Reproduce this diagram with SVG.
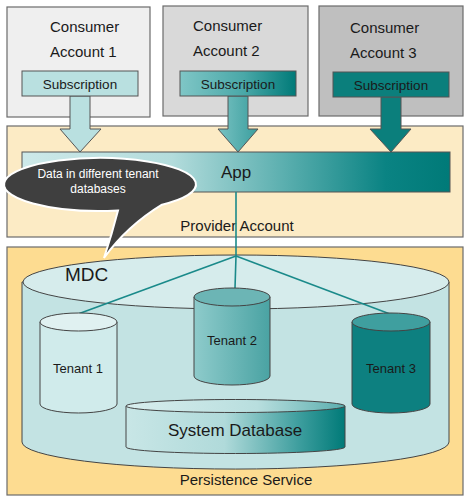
<svg xmlns="http://www.w3.org/2000/svg" width="474" height="504" viewBox="0 0 474 504">
<defs>
<style>
text{font-family:"Liberation Sans",Arial,sans-serif;fill:#1a1a1a}
.acct{stroke:#6b6b6b;stroke-width:1.2}
.t15{font-size:15px}
.t12{font-size:12px;text-anchor:middle}
.tsub{font-size:13.5px;text-anchor:middle}
.tten{font-size:13px;text-anchor:middle}
.sub{stroke:#555;stroke-width:1}
.conn{stroke:#1a8a8a;stroke-width:1.6;fill:none}
.cyl{stroke:#444;stroke-width:1}
</style>
<linearGradient id="g2" x1="0" y1="0" x2="1" y2="0">
<stop offset="0" stop-color="#7fc6c6"/><stop offset="0.55" stop-color="#4aa8a8"/><stop offset="1" stop-color="#007a78"/>
</linearGradient>
<linearGradient id="gstem2" x1="0" y1="0" x2="1" y2="0">
<stop offset="0" stop-color="#78c2c2"/><stop offset="1" stop-color="#3b9e9e"/>
</linearGradient>
<linearGradient id="gapp" x1="0" y1="0" x2="1" y2="0">
<stop offset="0" stop-color="#cde9e9"/><stop offset="0.35" stop-color="#b3dcdc"/><stop offset="0.6" stop-color="#5fb1b1"/><stop offset="0.85" stop-color="#0a8383"/><stop offset="1" stop-color="#007a78"/>
</linearGradient>
<linearGradient id="gt2" x1="0" y1="0" x2="1" y2="0">
<stop offset="0" stop-color="#8ecbcb"/><stop offset="1" stop-color="#4aa3a3"/>
</linearGradient>
<linearGradient id="gsys" x1="0" y1="0" x2="1" y2="0">
<stop offset="0" stop-color="#c8e6e6"/><stop offset="0.45" stop-color="#b0dada"/><stop offset="0.8" stop-color="#3a9c9c"/><stop offset="1" stop-color="#007a78"/>
</linearGradient>
<linearGradient id="gsystop" x1="0" y1="0" x2="1" y2="0">
<stop offset="0" stop-color="#d8eeee"/><stop offset="0.6" stop-color="#b8dede"/><stop offset="1" stop-color="#5aaeae"/>
</linearGradient>
</defs>

<g id="provider-account">
<rect x="7" y="126" width="456" height="111" fill="#fcebc5" stroke="#6b6b6b" stroke-width="1.2"/>
<text x="237" y="231" class="t15" text-anchor="middle">Provider Account</text>
</g>

<g id="persistence-service">
<rect x="7" y="247" width="456" height="248" fill="#fddc91" stroke="#6b6b6b" stroke-width="1.2"/>
<text x="246" y="485" class="t15" text-anchor="middle">Persistence Service</text>
</g>

<g id="consumer-account-1">
<rect x="7" y="7" width="143" height="110" fill="#efefef" class="acct"/>
<text x="50" y="32" class="t15">Consumer</text>
<text x="50" y="57" class="t15">Account 1</text>
</g>
<g id="consumer-account-2">
<rect x="163" y="6" width="145" height="110" fill="#d9d9d9" class="acct"/>
<text x="193" y="31" class="t15">Consumer</text>
<text x="193" y="56" class="t15">Account 2</text>
</g>
<g id="consumer-account-3">
<rect x="319" y="6" width="144" height="110" fill="#bfbfbf" class="acct"/>
<text x="350" y="33" class="t15">Consumer</text>
<text x="350" y="58" class="t15">Account 3</text>
</g>

<g id="subscription-1">
<polygon points="70,96 90,96 90,129 101,129 80,152 60,129 70,129" fill="#b9e0e0" class="sub"/>
<rect x="22" y="71" width="116" height="25" fill="#b9e0e0" class="sub"/>
<text x="80" y="88.5" class="tsub">Subscription</text>
</g>
<g id="subscription-2">
<polygon points="228,96 248,96 248,129 258,129 238,152 218,129 228,129" fill="url(#gstem2)" class="sub"/>
<rect x="180" y="71" width="116" height="25" fill="url(#g2)" class="sub"/>
<text x="238" y="88.5" class="tsub">Subscription</text>
</g>
<g id="subscription-3">
<polygon points="381,97 401,97 401,129 411,129 391,152 370,129 381,129" fill="#0b7f7c" class="sub"/>
<rect x="333" y="72" width="116" height="25" fill="#0b7f7c" class="sub"/>
<text x="391" y="89.5" class="tsub">Subscription</text>
</g>

<g id="app">
<rect x="22" y="152" width="428" height="40" fill="url(#gapp)" stroke="#555" stroke-width="1"/>
<text x="236" y="178" font-size="17" text-anchor="middle">App</text>
</g>

<g id="mdc">
<path d="M22,282 L22,442 A213,27 0 0 0 449,442 L449,282 Z" fill="#c3e3e3" class="cyl"/>
<ellipse cx="236" cy="282" rx="213" ry="27" fill="#d6ecec" class="cyl"/>
<text x="65" y="281" font-size="19">MDC</text>
</g>

<g id="connectors">
<polyline class="conn" points="236,192 236,256"/>
<line class="conn" x1="236" y1="256" x2="78" y2="314"/>
<line class="conn" x1="236" y1="256" x2="235" y2="288"/>
<line class="conn" x1="236" y1="256" x2="390" y2="314"/>
</g>

<g id="tenant-1">
<path d="M40,322 L40,404 A38.5,9 0 0 0 117,404 L117,322 Z" fill="#d0ebeb" class="cyl"/>
<ellipse cx="78.5" cy="322" rx="38.5" ry="9" fill="#e0f1f1" class="cyl"/>
<text x="78" y="373" class="tten">Tenant 1</text>
</g>
<g id="tenant-2">
<path d="M194,297 L194,376 A38,9 0 0 0 270,376 L270,297 Z" fill="url(#gt2)" class="cyl"/>
<ellipse cx="232" cy="297" rx="38" ry="9" fill="#6cb5b5" class="cyl"/>
<text x="232" y="345" class="tten">Tenant 2</text>
</g>
<g id="tenant-3">
<path d="M352,322 L352,404 A39,9 0 0 0 430,404 L430,322 Z" fill="#0d8080" class="cyl"/>
<ellipse cx="391" cy="322" rx="39" ry="9" fill="#3f9f9f" class="cyl"/>
<text x="391" y="373" class="tten">Tenant 3</text>
</g>

<g id="system-database">
<path d="M126,406 L126,447 A109.5,6.5 0 0 0 345,447 L345,406 Z" fill="url(#gsys)" class="cyl"/>
<ellipse cx="235.5" cy="406" rx="109.5" ry="6.5" fill="url(#gsystop)" class="cyl"/>
<text x="235" y="436" font-size="17" text-anchor="middle">System Database</text>
</g>

<g id="callout">
<path d="M118,210.5 A96,26.5 0 1 1 162,204.7 Q127,226 104,258 Q112,234 118,210.5 Z" fill="#3f3f3f" stroke="#ffffff" stroke-width="2"/>
<text x="98" y="178" font-size="12" text-anchor="middle" style="fill:#ffffff">Data in different tenant</text>
<text x="98" y="193" font-size="12" text-anchor="middle" style="fill:#ffffff">databases</text>
</g>
</svg>
